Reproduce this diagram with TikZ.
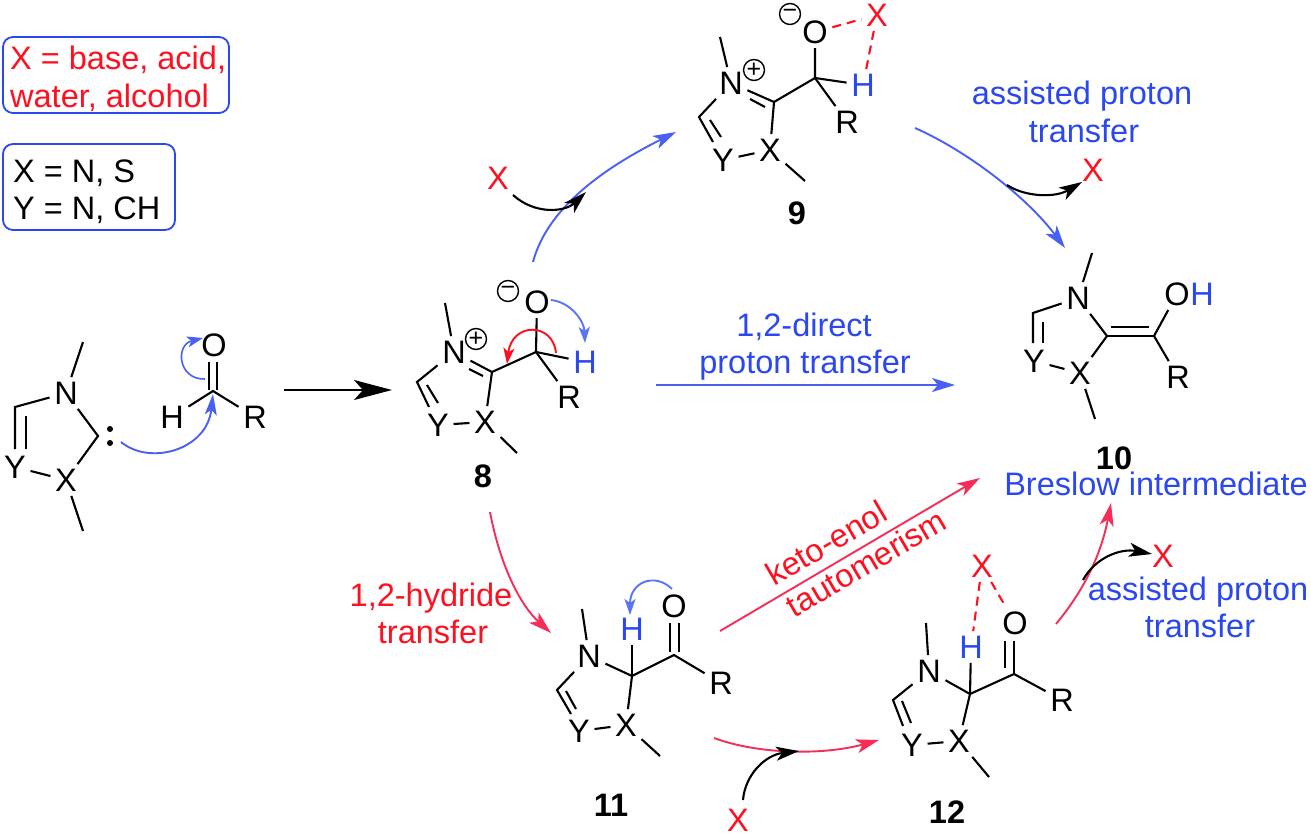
\documentclass[tikz,border=0pt]{standalone}
\usepackage{fontspec}
\setmainfont{Liberation Sans}
\usetikzlibrary{arrows.meta}
\definecolor{tblue}{HTML}{2A47F0}
\definecolor{ablue}{HTML}{4A60F5}
\definecolor{cblue}{HTML}{5A74F8}
\definecolor{tred}{HTML}{FF1020}
\definecolor{ared}{HTML}{F52D58}
\tikzset{
  atom/.style={inner sep=4.5pt,text depth=0pt,font=\fontsize{32.5}{36}\selectfont},
  ratom/.style={atom,text=tred},
  batom/.style={atom,text=tblue},
  lab/.style={inner sep=0pt,text depth=0pt,font=\fontsize{32.5}{36}\selectfont},
  bluelab/.style={lab,text=tblue},
  redlab/.style={lab,text=tred},
  num/.style={inner sep=0pt,text depth=0pt,font=\fontsize{32.5}{36}\selectfont\bfseries},
  bond/.style={line width=2.1pt,black},
  hb/.style={line width=2.1pt,tred,dash pattern=on 9pt off 6pt},
  tipS/.style={-{Stealth[length=23pt,width=14pt,inset=6pt]}},
  tipC/.style={-{Stealth[length=16pt,width=11pt,inset=4pt]}},
  barrow/.style={tipS,line width=1.9pt,ablue},
  carrow/.style={tipC,line width=1.9pt,cblue},
  rarrow/.style={tipS,line width=1.9pt,ared},
  karrow/.style={tipS,line width=2.1pt,black},
  infobox/.style={draw=tblue,line width=1.8pt,rounded corners=10pt,inner sep=0pt},
  charge/.style={draw,circle,line width=1.4pt,inner sep=0pt,minimum size=21pt,font=\fontsize{25}{25}\selectfont},
}
\begin{document}
\begin{tikzpicture}[x=1pt,y=-1pt]
\useasboundingbox (0,0) rectangle (1311,834);
% info boxes
\node[infobox,minimum width=226pt,minimum height=76pt] (box1) at (116,75) {};
\node[infobox,minimum width=172pt,minimum height=86pt] (box2) at (89,187) {};
\node[redlab,anchor=west] (t1a) at (10,58) {X = base, acid,};
\node[redlab,anchor=west] (t1b) at (10,95.5) {water, alcohol};
\node[lab,anchor=west] (t2a) at (13,171) {X = N, S};
\node[lab,anchor=west] (t2b) at (13,208) {Y = N, CH};

% --- carbene
\node[atom] (aN) at (66,393) {N};
\node[atom] (aY) at (15,467) {Y};
\node[atom] (aX) at (66,480) {X};
\coordinate (aC) at (98,436);
\coordinate (aV) at (15,407);
\coordinate (aVi) at (26,416);
\coordinate (aYi) at (26,449);
\coordinate (aYo) at (15,449);
\coordinate (aM1) at (83,342);
\coordinate (aM2) at (83,531);
\draw[bond] (aN) -- (aM1);
\draw[bond] (aN) -- (aV) -- (aYo);
\draw[bond] (aVi) -- (aYi);
\draw[bond] (aY) -- (aX);
\draw[bond] (aN) -- (aC) -- (aX);
\draw[bond] (aX) -- (aM2);
\fill (110,429) circle (3pt) (110,443) circle (3pt);
% --- aldehyde
\node[atom] (hO) at (214,345) {O};
\node[atom] (hH) at (172,417) {H};
\node[atom] (hR) at (255,417) {R};
\coordinate (hC) at (213,391);
\coordinate (hD1) at (209,390);
\coordinate (hD2) at (209,362);
\coordinate (hD3) at (217,390);
\coordinate (hD4) at (217,362);
\draw[bond] (hH) -- (hC) -- (hR);
\draw[bond] (hD1) -- (hD2);
\draw[bond] (hD3) -- (hD4);
\coordinate (aArr) at (121,442);
\coordinate (hArr) at (205,379);
\coordinate (hOt) at (203,338);
\coordinate (hCt) at (213,394);
\draw[tipC,line width=1.9pt,ablue,-{Stealth[length=21pt,width=12pt,inset=5pt]}] (aArr) .. controls (150,466) and (207,450) .. (hCt);
\draw[tipC,line width=1.6pt,ablue] (hArr) .. controls (178,380) and (175,345) .. (hOt);
% main arrow
\coordinate (m1) at (284,390);
\coordinate (m2) at (392,390);
\draw[line width=2.1pt,-{Stealth[length=38pt,width=20pt,inset=9pt]}] (m1) -- (m2);

% --- 8
\node[atom] (eN) at (454,352) {N};
\node[atom] (eY) at (438,425) {Y};
\node[atom] (eX) at (485,422) {X};
\node[atom] (eO) at (537,302) {O};
\node[batom] (eH) at (585,362) {H};
\node[atom] (eR) at (569,397) {R};
\node[charge] (ePl) at (476,339) {+};
\node[charge] (eMi) at (508,291) {−};
\node[num] (n8) at (483,476) {8};
\coordinate (eC2) at (492,372);
\coordinate (eC) at (536,352);
\coordinate (eV) at (417,382);
\coordinate (eVe) at (429,407);
\coordinate (eI1) at (427,385);
\coordinate (eI2) at (438,403);
\coordinate (eI3) at (469,369);
\coordinate (eI4) at (483,376);
\coordinate (eM1) at (445,303);
\coordinate (eM2) at (517,453);
\draw[bond] (eN) -- (eM1);
\draw[bond] (eN) -- (eV) -- (eVe);
\draw[bond] (eI1) -- (eI2);
\draw[bond] (eY) -- (eX);
\draw[bond] (eN) -- (eC2) -- (eX);
\draw[bond] (eI3) -- (eI4);
\draw[bond] (eX) -- (eM2);
\draw[bond] (eC2) -- (eC) -- (eO);
\draw[bond] (eC) -- (eH);
\draw[bond] (eC) -- (eR);
\coordinate (eR1) at (556,353);
\coordinate (eR2) at (507,364);
\coordinate (eB1) at (551,300);
\coordinate (eB2) at (585,343);
\draw[tipC,line width=1.9pt,tred] (eR1) .. controls (553,322) and (512,322) .. (eR2);
\draw[carrow] (eB1) .. controls (570,302) and (584,320) .. (eB2);

% --- 9
\node[atom] (nN) at (731,83) {N};
\node[atom] (nY) at (723,160) {Y};
\node[atom] (nX) at (770,150) {X};
\node[atom] (nO) at (815,32) {O};
\node[batom] (nH) at (863,85) {H};
\node[atom] (nR) at (847,122) {R};
\node[ratom] (nXr) at (877,15) {X};
\node[charge] (nPl) at (754,70) {+};
\node[charge] (nMi) at (790,14) {−};
\node[num] (n9) at (797,213) {9};
\coordinate (nC2) at (774,102);
\coordinate (nC) at (815,78);
\coordinate (nV) at (699,117);
\coordinate (nVe) at (713,142);
\coordinate (nI1) at (710,120);
\coordinate (nI2) at (721,137);
\coordinate (nI3) at (750,99);
\coordinate (nI4) at (765,107);
\coordinate (nM1) at (720,37);
\coordinate (nM2) at (805,181);
\draw[bond] (nN) -- (nM1);
\draw[bond] (nN) -- (nV) -- (nVe);
\draw[bond] (nI1) -- (nI2);
\draw[bond] (nY) -- (nX);
\draw[bond] (nN) -- (nC2) -- (nX);
\draw[bond] (nI3) -- (nI4);
\draw[bond] (nX) -- (nM2);
\draw[bond] (nC2) -- (nC) -- (nO);
\draw[bond] (nC) -- (nH);
\draw[bond] (nC) -- (nR);
\draw[hb] (nO) -- (nXr);
\draw[hb] (nXr) -- (nH);

% --- 10
\node[atom] (tN) at (1078,298) {N};
\node[atom] (tY) at (1034,361) {Y};
\node[atom] (tX) at (1080,373) {X};
\node[atom] (tO) at (1177,294) {O};
\node[batom,inner sep=0pt] (tH) at (1202,294) {H};
\node[atom] (tR) at (1178,377) {R};
\node[num] (n10) at (1114,458) {10};
\node[bluelab] (bres) at (1156,484) {Breslow intermediate};
\coordinate (tC2) at (1107,336);
\coordinate (tC) at (1154,336);
\coordinate (tV) at (1033,313);
\coordinate (tVe) at (1033,343);
\coordinate (tI1) at (1043,322);
\coordinate (tI2) at (1043,343);
\coordinate (tI3) at (1111,327);
\coordinate (tI4) at (1149,327);
\coordinate (tM1) at (1092,253);
\coordinate (tM2) at (1095,419);
\draw[bond] (tN) -- (tM1);
\draw[bond] (tN) -- (tV) -- (tVe);
\draw[bond] (tI1) -- (tI2);
\draw[bond] (tY) -- (tX);
\draw[bond] (tN) -- (tC2) -- (tX);
\draw[bond] (tX) -- (tM2);
\draw[bond] (tC2) -- (tC);
\draw[bond] (tI3) -- (tI4);
\draw[bond] (tC) -- (tO);
\draw[bond] (tC) -- (tR);

% --- 11
\node[atom] (uN) at (589,656) {N};
\node[atom] (uY) at (579,731) {Y};
\node[atom] (uX) at (626,725) {X};
\node[atom] (uO) at (674,606) {O};
\node[batom] (uH) at (632,629) {H};
\node[atom] (uR) at (721,683) {R};
\node[num] (n11) at (611,805) {11};
\coordinate (uC2) at (632,676);
\coordinate (uC) at (674,655);
\coordinate (uV) at (557,690);
\coordinate (uVe) at (571,714);
\coordinate (uI1) at (566,691);
\coordinate (uI2) at (576,709);
\coordinate (uD1) at (670,652);
\coordinate (uD2) at (670,623);
\coordinate (uD3) at (679,652);
\coordinate (uD4) at (679,623);
\coordinate (uM1) at (582,609);
\coordinate (uM2) at (660,756);
\draw[bond] (uN) -- (uM1);
\draw[bond] (uN) -- (uV) -- (uVe);
\draw[bond] (uI1) -- (uI2);
\draw[bond] (uY) -- (uX);
\draw[bond] (uN) -- (uC2) -- (uX);
\draw[bond] (uC2) -- (uH);
\draw[bond] (uX) -- (uM2);
\draw[bond] (uC2) -- (uC) -- (uR);
\draw[bond] (uD1) -- (uD2);
\draw[bond] (uD3) -- (uD4);
\coordinate (uB1) at (672,589);
\coordinate (uB2) at (630,615);
\draw[carrow] (uB1) .. controls (655,572) and (630,582) .. (uB2);

% --- 12
\node[atom] (wN) at (929,671) {N};
\node[atom] (wY) at (912,745) {Y};
\node[atom] (wX) at (959,741) {X};
\node[atom] (wO) at (1015,623) {O};
\node[batom] (wH) at (971,647) {H};
\node[atom] (wR) at (1062,700) {R};
\node[ratom] (wXr) at (982,566) {X};
\node[num] (n12) at (947,812) {12};
\coordinate (wC2) at (970,694);
\coordinate (wC) at (1014,674);
\coordinate (wV) at (893,700);
\coordinate (wVe) at (903,726);
\coordinate (wI1) at (902,701);
\coordinate (wI2) at (911,723);
\coordinate (wD1) at (1005,668);
\coordinate (wD2) at (1005,641);
\coordinate (wD3) at (1014,674);
\coordinate (wD4) at (1014,641);
\coordinate (wM1) at (926,623);
\coordinate (wM2) at (989,777);
\draw[bond] (wN) -- (wM1);
\draw[bond] (wN) -- (wV) -- (wVe);
\draw[bond] (wI1) -- (wI2);
\draw[bond] (wY) -- (wX);
\draw[bond] (wN) -- (wC2) -- (wX);
\draw[bond] (wC2) -- (wH);
\draw[bond] (wX) -- (wM2);
\draw[bond] (wC2) -- (wC) -- (wR);
\draw[bond] (wD1) -- (wD2);
\draw[bond] (wD3) -- (wD4);
\draw[hb] (wXr) -- (wH);
\draw[hb] (wXr) -- (wO);

% --- reaction arrows
\coordinate (p1) at (533,262);
\coordinate (p2) at (676,132);
\draw[barrow] (p1) .. controls (548,205) and (610,165) .. (p2);
\node[ratom] (xA) at (498,178) {X};
\coordinate (xA1) at (513,195);
\coordinate (xA2) at (586,192);
\draw[karrow] (xA1) .. controls (535,215) and (565,212) .. (xA2);

\coordinate (q1) at (915,128);
\coordinate (q2) at (1065,248);
\draw[barrow] (q1) .. controls (965,150) and (1025,195) .. (q2);
\node[ratom] (xB) at (1093,170) {X};
\coordinate (xB1) at (1007,185);
\coordinate (xB2) at (1082,182);
\draw[karrow] (xB1) .. controls (1025,197) and (1055,198) .. (xB2);
\node[bluelab] (tq1) at (1082,93) {assisted proton};
\node[bluelab] (tq2) at (1084,131) {transfer};

\coordinate (r1) at (656,385);
\coordinate (r2) at (955,385);
\draw[barrow] (r1) -- (r2);
\node[bluelab] (tr1) at (804,325) {1,2-direct};
\node[bluelab] (tr2) at (805,362) {proton transfer};

\coordinate (s1) at (490,512);
\coordinate (s2) at (551,633);
\draw[rarrow] (s1) .. controls (500,565) and (520,605) .. (s2);
\node[redlab] (ts1) at (431,595) {1,2-hydride};
\node[redlab] (ts2) at (433,632) {transfer};

\coordinate (k1) at (720,631);
\coordinate (k2) at (980,478);
\draw[rarrow] (k1) -- (k2);
\node[redlab,rotate=30.4] (tk1) at (826,543) {keto-enol};
\node[redlab,rotate=30.4] (tk2) at (866,563) {tautomerism};

\coordinate (v1) at (714,738);
\coordinate (v2) at (879,740);
\draw[rarrow] (v1) .. controls (760,755) and (825,755) .. (v2);
\node[ratom] (xC) at (738,820) {X};
\coordinate (xC1) at (743,800);
\coordinate (xC2) at (799,751);
\draw[karrow] (xC1) .. controls (745,775) and (765,755) .. (xC2);

\coordinate (y1) at (1056,624);
\coordinate (y2) at (1111,503);
\draw[rarrow] (y1) .. controls (1080,595) and (1100,560) .. (y2);
\node[ratom] (xD) at (1163,556) {X};
\coordinate (xD1) at (1083,580);
\coordinate (xD2) at (1152,554);
\draw[karrow] (xD1) .. controls (1095,558) and (1120,548) .. (xD2);
\node[bluelab] (ty1) at (1198,589) {assisted proton};
\node[bluelab] (ty2) at (1200,626) {transfer};
\end{tikzpicture}
\end{document}
